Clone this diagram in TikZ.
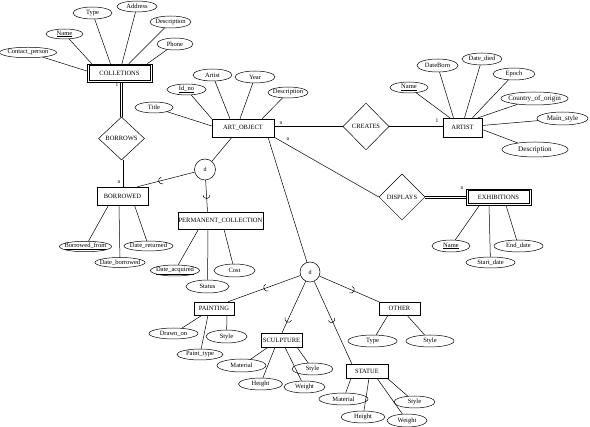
\documentclass[tikz,border=0pt]{standalone}
\usepackage{fontspec}
\setmainfont{Liberation Serif}
\usetikzlibrary{shapes.geometric,decorations.markings,calc}
\begin{document}
\begin{tikzpicture}[x=1pt,y=-1pt,
  every node/.style={font=\fontsize{6.5}{7.5}\selectfont},
  ent/.style={draw, rectangle, line width=0.5pt, inner sep=0pt, outer sep=0.25pt},
  attr/.style={draw, ellipse, line width=0.5pt, inner xsep=-2.5pt, inner ysep=-1pt},
  rel/.style={draw, diamond, line width=0.5pt, inner sep=0pt, minimum width=46pt, minimum height=46pt},
  dc/.style={draw, circle, line width=0.5pt, inner sep=0pt, minimum size=20pt, font=\fontsize{6}{7}\selectfont},
  ln/.style={line width=0.5pt},
  card/.style={font=\fontsize{5.5}{6}\selectfont, inner sep=0pt},
  sub/.style={postaction={decorate}, decoration={markings, mark=at position #1 with {\draw[line width=0.5pt] (0pt,3.5pt) arc[start angle=90, end angle=-90, radius=3.5pt];}}},
  sz/.style 2 args={minimum width=#1pt, minimum height=#2pt}
]
\fill[white] (0,0) rectangle (590,427);
\useasboundingbox (0,0) rectangle (590,427);

% entities
\node[ent, sz={65}{18}] (COL) at (119.5,73) {COLLETIONS};
\draw[ln] ($(COL.north west)+(2,2)$) rectangle ($(COL.south east)+(-2,-2)$);
\node[ent, sz={62}{18}] (ART) at (243,128) {ART\_OBJECT};
\node[ent, sz={39}{19}] (ARTIST) at (462.5,127.5) {ARTIST};
\node[ent, sz={51}{18}] (BOR) at (122.5,196) {BORROWED};
\node[ent, sz={85}{17}] (PC) at (220.5,220.5) {PERMANENT\_COLLECTION};
\node[ent, sz={65}{16}] (EXH) at (498.5,197) {EXHIBITIONS};
\draw[ln] ($(EXH.north west)+(2,2)$) rectangle ($(EXH.south east)+(-2,-2)$);
\node[ent, sz={40}{13}] (PAI) at (214,308.5) {PAINTING};
\node[ent, sz={41}{14}] (SCU) at (281.5,340) {SCULPTURE};
\node[ent, sz={42}{14}] (STA) at (367,371) {STATUE};
\node[ent, sz={41}{13}] (OTH) at (399.5,308.5) {OTHER};

% relationships
\node[rel, minimum height=43pt] (BORS) at (121.5,138.5) {BORROWS};
\node[rel, minimum height=47pt] (CRE) at (366,126.5) {CREATES};
\node[rel] (DIS) at (402,197) {DISPLAYS};
\node[dc, minimum size=21pt] (d1) at (205,169.5) {d};
\node[dc] (d2) at (310,272) {d};

% attributes of COLLETIONS
\node[attr, sz={57}{10.5}] (c1) at (28,52.5) {Contact\_person};
\node[attr, sz={37}{10}] (c2) at (64.5,34) {\underline{Name}};
\node[attr, sz={39}{12}] (c3) at (92.5,13) {Type};
\node[attr, sz={40}{11}] (c4) at (137,6.5) {Address};
\node[attr, sz={41}{12}] (c5) at (170.5,22) {Description};
\node[attr, sz={36}{12}] (c6) at (175,44) {Phone};

% attributes of ART_OBJECT
\node[attr, sz={38}{11}] (a1) at (154,107.5) {Title};
\node[attr, sz={39}{11}] (a2) at (186.5,89.5) {\underline{Id\_no}};
\node[attr, sz={39}{12}] (a3) at (212.5,75) {Artist};
\node[attr, sz={40}{12}] (a4) at (255,77) {Year};
\node[attr, sz={40}{11}] (a5) at (288,92.5) {Description};

% attributes of ARTIST
\node[attr, sz={38}{11}] (r1) at (409,87.5) {\underline{Name}};
\node[attr, sz={41}{13}] (r2) at (437.5,65.5) {DateBorn};
\node[attr, sz={40}{12}] (r3) at (482,59) {Date\_died};
\node[attr, sz={42}{12}] (r4) at (514,74) {Epoch};
\node[attr, sz={65}{13}, font=\fontsize{7}{8}\selectfont] (r5) at (534.5,98.5) {Country\_of\_origin};
\node[attr, sz={51}{13}, font=\fontsize{7}{8}\selectfont] (r6) at (562.5,118.5) {Main\_style};
\node[attr, sz={66}{15}, font=\fontsize{7.2}{8}\selectfont] (r7) at (535,149.5) {Description};

% attributes of BORROWED
\node[attr, sz={49}{10.5}] (b1) at (85.5,246.5) {\underline{Borrowed\_from}};
\node[attr, sz={48}{10}] (b2) at (120,262.5) {Date\_borrowed};
\node[attr, sz={49}{10}] (b3) at (148.5,246) {Date\_returned};

% attributes of PERMANENT_COLLECTION
\node[attr, sz={49}{11}] (p1) at (175,270.5) {\underline{Date\_acquired}};
\node[attr, sz={43}{13}] (p2) at (207.5,286.5) {Status};
\node[attr, sz={41}{13}] (p3) at (234.5,270.5) {Cost};

% attributes of EXHIBITIONS
\node[attr, sz={38}{12}] (e1) at (451,246) {\underline{Name}};
\node[attr, sz={49}{11}] (e2) at (490.5,262.5) {Start\_date};
\node[attr, sz={49}{12}] (e3) at (518.5,246) {End\_date};

% attributes of PAINTING
\node[attr, sz={49}{11}] (pa1) at (173.5,333.5) {Drawn\_on};
\node[attr, sz={46}{11}] (pa2) at (200,354.5) {Paint\_type};
\node[attr, sz={41}{13}] (pa3) at (226.5,336.5) {Style};

% attributes of SCULPTURE
\node[attr, sz={49}{13}] (s1) at (241.5,365.5) {Material};
\node[attr, sz={44}{12}] (s2) at (260.5,384) {Height};
\node[attr, sz={41}{12}] (s3) at (304.5,387) {Weight};
\node[attr, sz={41}{12}] (s4) at (312.5,369) {Style};

% attributes of STATUE
\node[attr, sz={49}{12}] (t1) at (343.5,399) {Material};
\node[attr, sz={44}{12}] (t2) at (363,417) {Height};
\node[attr, sz={40}{13}] (t3) at (407,420.5) {Weight};
\node[attr, sz={41}{12}] (t4) at (414.5,402) {Style};

% attributes of OTHER
\node[attr, sz={49}{12}] (o1) at (372.5,341) {Type};
\node[attr, sz={48}{12}] (o2) at (430,341) {Style};

% attribute connectors
\draw[ln] (c1) -- ($(COL.west)+(0,-2)$);
\draw[ln] (c2) -- ($(COL.north west)+(5,0)$);
\draw[ln] (c3) -- ($(COL.north)+(-9,0)$);
\draw[ln] (c4) -- (COL);
\draw[ln] (c5) -- (COL);
\draw[ln] (c6) -- ($(COL.north east)+(-5,0)$);

\draw[ln] (a1) -- ($(ART.west)+(0,-2)$);
\draw[ln] (a2) -- (ART.north west);
\draw[ln] (a3) -- ($(ART.north)+(-13,0)$);
\draw[ln] (a4) -- ($(ART.north)+(-3,0)$);
\draw[ln] (a5) -- ($(ART.north)+(19,0)$);

\draw[ln] (r1) -- ($(ARTIST.north west)+(7,0)$);
\draw[ln] (r2) -- ($(ARTIST.north)+(-9,0)$);
\draw[ln] (r3) -- ($(ARTIST.north)+(2,0)$);
\draw[ln] (r4) -- ($(ARTIST.north)+(10,0)$);
\draw[ln] (r5) -- ($(ARTIST.north east)+(-4,0)$);
\draw[ln] (r6) -- ($(ARTIST.east)+(0,-2)$);
\draw[ln] (r7) -- ($(ARTIST.east)+(0,2)$);

\draw[ln] (b1) -- ($(BOR.south)+(-14,0)$);
\draw[ln] (b2) -- ($(BOR.south)+(-3.5,0)$);
\draw[ln] (b3) -- ($(BOR.south)+(12,0)$);

\draw[ln] (p1) -- ($(PC.south)+(-22,0)$);
\draw[ln] (p2) -- ($(PC.south)+(-12.5,0)$);
\draw[ln] (p3) -- ($(PC.south)+(3.5,0)$);

\draw[ln] (e1) -- ($(EXH.south)+(-19,0)$);
\draw[ln] (e2) -- ($(EXH.south)+(-9.5,0)$);
\draw[ln] (e3) -- ($(EXH.south)+(7.5,0)$);

\draw[ln] (pa1) -- ($(PAI.south)+(-12,0)$);
\draw[ln] (pa2) -- ($(PAI.south)+(-6,0)$);
\draw[ln] (pa3) -- ($(PAI.south)+(13,0)$);

\draw[ln] (s1) -- ($(SCU.south)+(-13.5,0)$);
\draw[ln] (s2) -- ($(SCU.south)+(-6.5,0)$);
\draw[ln] (s3) -- ($(SCU.south)+(3.5,0)$);
\draw[ln] (s4) -- ($(SCU.south)+(15.5,0)$);

\draw[ln] (t1) -- ($(STA.south)+(-16,0)$);
\draw[ln] (t2) -- ($(STA.south)+(2,0)$);
\draw[ln] (t3) -- ($(STA.south)+(10,0)$);
\draw[ln] (t4) -- ($(STA.south east)+(-1,0)$);

\draw[ln] (o1) -- ($(OTH.south)+(-11.5,0)$);
\draw[ln] (o2) -- ($(OTH.south)+(7.5,0)$);

% relationship connectors (double lines = total participation)
\draw[ln] ([xshift=-0.8pt]BORS.north) -- ([xshift=-0.8pt]BORS.north |- COL.south);
\draw[ln] ([xshift=0.8pt]BORS.north) -- ([xshift=0.8pt]BORS.north |- COL.south);
\draw[ln] ([xshift=1.5pt]BORS.south) -- ([xshift=1.5pt]BORS.south |- BOR.north);
\draw[ln] (CRE.west -| ART.east) -- (CRE.west);
\draw[ln] (CRE.east) -- (CRE.east -| ARTIST.west);
\draw[ln] (ART.south east) -- (DIS.west);
\draw[ln] ([yshift=0.8pt]DIS.east) -- ([yshift=0.8pt]DIS.east -| EXH.west);
\draw[ln] ([yshift=-0.8pt]DIS.east) -- ([yshift=-0.8pt]DIS.east -| EXH.west);

% specialisations
\draw[ln] ($(ART.south)+(-11,0)$) -- (d1);
\draw[ln, sub=0.57] (d1) -- ($(BOR.north)+(15,0)$);
\draw[ln, sub=0.47] (d1) -- ($(PC.north)+(-13,0)$);
\draw[ln] ($(ART.south)+(25,0)$) -- (d2);
\draw[ln, sub=0.46] (d2) -- ($(PAI.north)+(14,0)$);
\draw[ln, sub=0.73] (d2) -- ($(SCU.north)+(0.5,0)$);
\draw[ln, sub=0.46] (d2) -- ($(STA.north west)+(6,0)$);
\draw[ln, sub=0.53] (d2) -- (OTH.north west);

% cardinalities
\node[card] (k1) at (117,85) {1};
\node[card] (k2) at (119,182) {n};
\node[card] (k3) at (281,123) {n};
\node[card] (k4) at (288,139) {n};
\node[card] (k5) at (437,121) {1};
\node[card] (k6) at (462,188) {n};
\end{tikzpicture}
\end{document}
